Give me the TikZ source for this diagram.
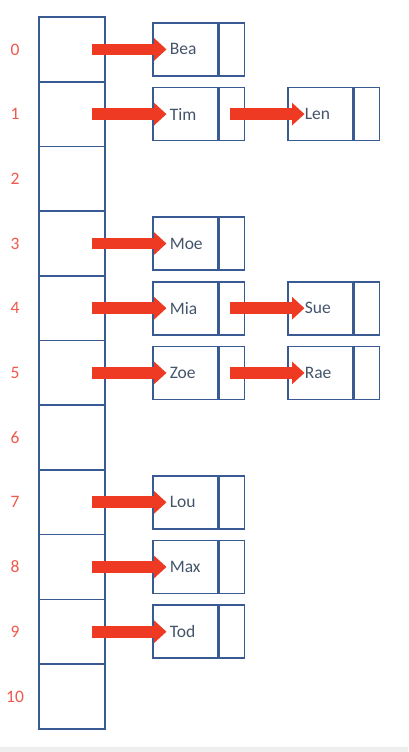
\documentclass[tikz,border=0pt]{standalone}
\usepackage{fontspec}
\setmainfont{Carlito}
\usetikzlibrary{arrows.meta}
\definecolor{boxblue}{HTML}{3A5A94}
\definecolor{txtgray}{HTML}{44546A}
\definecolor{arrred}{HTML}{EE3A22}
\definecolor{idxred}{HTML}{F0584C}
\definecolor{bandgray}{HTML}{EEEEEE}
\tikzset{
  cell/.style={draw=boxblue, line width=1.6pt, minimum width=66pt, minimum height=64.7pt, inner sep=0pt},
  idx/.style={text=idxred, font=\fontsize{17.5}{18}\selectfont, inner sep=0pt},
  databox/.style={draw=boxblue, line width=1.6pt, minimum width=65pt, minimum height=53pt,
    text width=65pt, inner xsep=0pt, inner ysep=0pt, align=left, text=txtgray,
    font=\fontsize{17.5}{18}\selectfont, anchor=west},
  ptrbox/.style={draw=boxblue, line width=1.6pt, minimum width=25pt, minimum height=53pt, inner sep=0pt, anchor=west},
  fat/.style={draw=arrred, line width=11.7pt, -{Triangle[length=12.5pt,width=22pt]}}
}
\begin{document}
\begin{tikzpicture}[x=1pt,y=-1pt]
\useasboundingbox (0,0) rectangle (408,752);
\fill[bandgray] (0,746.7) rectangle (408,752);
% array cells and indices
\foreach \i in {0,...,10}{
  \node[cell] (c\i) at (72,{49.4+64.7*\i}) {};
  \node[idx] (n\i) at (15,{49.4+64.7*\i}) {\i};
}
% first column list nodes
\foreach \nm/\lab/\i in {bea/Bea/0, tim/Tim/1, moe/Moe/3, mia/Mia/4, zoe/Zoe/5, lou/Lou/7, max/Max/8, tod/Tod/9}{
  \node[databox] (\nm) at (152,{49.4+64.7*\i}) {\hspace*{17pt}\lab};
  \node[ptrbox] (\nm p) at (\nm.east) {};
  \draw[fat] ([xshift=20pt]c\i.center) -- ([xshift=14.5pt]\nm.west);
}
% second column list nodes
\foreach \nm/\lab/\i/\prev in {len/Len/1/tim, sue/Sue/4/mia, rae/Rae/5/zoe}{
  \node[databox] (\nm) at (287,{49.4+64.7*\i}) {\hspace*{17pt}\lab};
  \node[ptrbox] (\nm p) at (\nm.east) {};
  \draw[fat] ([xshift=11pt]\prev p.west) -- ([xshift=17.5pt]\nm.west);
}
\end{tikzpicture}
\end{document}
